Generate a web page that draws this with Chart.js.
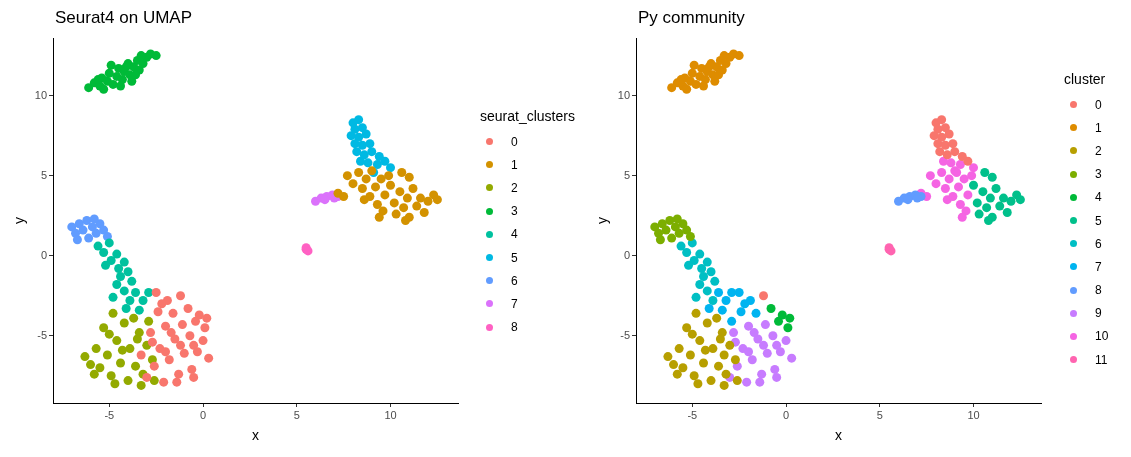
<!DOCTYPE html>
<html>
<head>
<meta charset="utf-8">
<script src="https://cdn.jsdelivr.net/npm/chart.js@4/dist/chart.umd.min.js"></script>
<style>
  body { margin: 0; background: #fff; font-family: "Liberation Sans", Arial, sans-serif; }
  .wrap { display: flex; width: 1131px; height: 457px; }
  .panel { width: 565px; height: 457px; position: relative; }
  .titulo { position: absolute; top: 8px; font-size: 17px; color: #000; }
  .leyenda { position: absolute; font-size: 12px; color: #000; }
  .leyenda .cab { font-size: 14px; margin-bottom: 6px; }
  .leyenda .fila { height: 23.2px; display: flex; align-items: center; }
  .leyenda .punto { width: 7px; height: 7px; border-radius: 50%; margin: 0 18px 0 6px; }
</style>
</head>
<body>
<div class="wrap">
  <div class="panel"><canvas id="izq"></canvas>
    <div class="titulo" style="left:55px">Seurat4 on UMAP</div>
    <div class="leyenda" id="ley-izq" style="left:480px; top:108px"></div>
  </div>
  <div class="panel"><canvas id="der"></canvas>
    <div class="titulo" style="left:73px">Py community</div>
    <div class="leyenda" id="ley-der" style="left:499px; top:71px"></div>
  </div>
</div>
<script>
const puntosArriba = [
  [-6.1,10.5,3,1],[-5.8,10.8,3,1],[-5.5,10.6,3,1],[-5.4,11.1,3,1],[-5.1,10.9,3,1],[-5.0,11.4,3,1],
  [-4.8,10.7,3,1],[-4.6,11.2,3,1],[-4.5,11.7,3,1],[-4.3,11.0,3,1],[-4.2,11.5,3,1],[-4.0,12.0,3,1],
  [-3.9,11.3,3,1],[-3.7,11.8,3,1],[-3.5,12.2,3,1],[-3.4,11.6,3,1],[-3.2,12.0,3,1],[-3.0,12.4,3,1],
  [-2.8,12.6,3,1],[-3.8,10.9,3,1],[-4.9,11.9,3,1],[-5.3,10.4,3,1],[-4.4,10.6,3,1],[-3.3,12.5,3,1],
  [-2.5,12.5,3,1],[-4.1,11.8,3,1],[-3.6,11.3,3,1],[-5.6,11.0,3,1]
];
const puntosDerecha = [
  [8.0,8.3,5,0],[8.3,8.5,5,0],[8.1,7.9,5,0],[8.5,8.0,5,0],[7.9,7.5,5,0],[8.3,7.4,5,0],[8.7,7.6,5,0],
  [8.1,7.0,5,0],[8.5,6.9,5,0],[8.9,7.0,5,0],[8.2,6.5,5,0],[8.6,6.3,5,0],[9.0,6.5,5,0],[9.4,6.2,5,0],
  [8.4,5.9,5,10],[8.8,5.8,5,10],[9.3,5.7,5,10],[9.7,5.9,5,0],[9.1,5.2,5,10],[10.0,5.5,5,10],
  [7.7,5.0,1,10],[8.0,4.5,1,10],[8.3,5.2,1,10],[8.5,4.2,1,10],[8.7,4.8,1,10],[8.9,3.7,1,10],
  [9.0,5.3,1,10],[9.2,4.3,1,10],[9.3,3.2,1,10],[9.5,4.8,1,10],[9.6,2.8,1,10],[9.7,3.8,1,10],
  [10.0,4.4,1,5],[10.2,3.3,1,5],[10.3,2.6,1,5],[10.5,4.0,1,5],[10.7,3.0,1,5],[10.9,3.6,1,5],
  [11.0,2.4,1,5],[11.2,4.2,1,5],[11.4,3.1,1,5],[11.6,3.6,1,5],[11.8,2.7,1,5],[12.0,3.4,1,5],
  [12.3,3.8,1,5],[12.5,3.5,1,5],[10.6,5.2,1,5],[11.0,4.9,1,5],[9.9,5.0,1,10],[9.4,2.4,1,10],
  [7.2,3.9,1,10],[7.5,3.7,1,10],[8.6,3.5,1,10],[10.8,2.2,1,5],
  [6.0,3.4,7,8],[6.3,3.6,7,8],[6.6,3.7,7,8],[6.9,3.8,7,8],[7.2,3.7,7,8],[6.5,3.5,7,8],[7.0,3.6,7,8],
  [5.5,0.4,8,11],[5.5,0.5,8,11],[5.6,0.3,8,11]
];
const puntosIzquierda = [
  [-7.0,1.8,6,3],[-6.8,1.4,6,3],[-6.6,2.0,6,3],[-6.4,1.6,6,3],[-6.2,2.2,6,3],[-6.1,1.1,6,3],
  [-5.9,1.8,6,3],[-5.7,1.4,6,3],[-5.5,2.0,6,3],[-5.3,1.6,6,3],[-5.1,1.2,6,3],[-6.7,1.0,6,3],[-5.8,2.3,6,3],
  [-5.6,0.6,4,6],[-5.3,0.2,4,6],[-5.0,0.8,4,6],[-4.9,-0.3,4,6],[-4.6,0.1,4,6],[-4.5,-0.8,4,6],
  [-4.2,-0.4,4,6],[-4.4,-1.3,4,6],[-4.0,-1.0,4,6],[-3.8,-1.6,4,6],[-4.6,-1.8,4,6],[-4.2,-2.2,4,6],
  [-3.6,-2.3,4,7],[-3.2,-2.8,4,7],[-3.9,-2.8,4,6],[-2.9,-2.3,4,7],[-4.8,-2.6,4,6],[-5.2,-0.6,4,6],
  [-3.4,-3.4,4,7],[-4.1,-3.3,4,7]
];
const puntosAbajo = [
  [-6.3,-6.3,2,2],[-6.0,-6.8,2,2],[-5.7,-5.8,2,2],[-5.5,-7.0,2,2],[-5.3,-4.5,2,2],[-5.1,-6.2,2,2],
  [-4.9,-7.5,2,2],[-4.8,-3.6,2,2],[-4.6,-5.3,2,2],[-4.4,-6.7,2,2],[-4.2,-4.2,2,2],[-4.0,-7.8,2,2],
  [-3.9,-5.8,2,2],[-3.7,-3.9,2,2],[-3.6,-6.9,2,2],[-3.4,-4.8,2,2],[-3.2,-7.4,2,2],[-3.0,-5.6,2,2],
  [-2.9,-4.1,2,7],[-2.7,-6.5,2,2],[-4.7,-8.0,2,2],[-5.8,-7.4,2,2],[-3.3,-8.1,2,2],[-2.6,-7.8,2,2],
  [-5.0,-4.9,2,2],[-4.3,-5.9,2,2],[-3.5,-5.2,2,2],
  [-3.3,-6.2,0,2],[-3.0,-7.6,0,9],[-2.8,-4.8,0,9],[-2.6,-6.9,0,9],[-2.5,-2.3,0,7],[-2.4,-3.5,0,7],
  [-2.3,-5.8,0,9],[-2.1,-7.9,0,9],[-2.0,-4.4,0,9],[-1.9,-2.8,0,7],[-1.8,-6.5,0,9],[-1.6,-3.6,0,7],
  [-1.5,-5.2,0,9],[-1.3,-7.4,0,9],[-1.2,-2.5,0,0],[-1.1,-4.3,0,9],[-1.0,-6.1,0,9],[-0.8,-3.3,0,4],
  [-0.7,-5.0,0,9],[-0.6,-7.1,0,9],[-0.4,-4.1,0,4],[-0.3,-6.0,0,9],[-0.2,-3.7,0,4],[0.0,-5.3,0,9],
  [0.1,-4.5,0,4],[0.3,-6.4,0,9],[0.2,-3.9,0,4],[-0.5,-7.6,0,9],[-2.2,-3.0,0,7],[-1.4,-7.9,0,9],
  [-2.0,-6.0,0,9],[-1.2,-5.6,0,9],[-0.5,-5.6,0,9],[-1.7,-4.8,0,9],[-2.7,-5.4,0,9]
];
const todosLosPuntos = [...puntosArriba, ...puntosDerecha, ...puntosIzquierda, ...puntosAbajo];

const clustersSeurat = ['0','1','2','3','4','5','6','7','8'];
const coloresSeurat = ['#F8766D','#D39200','#93AA00','#00BA38','#00C19F','#00B9E3','#619CFF','#DB72FB','#FF61C3'];
const clustersPy = ['0','1','2','3','4','5','6','7','8','9','10','11'];
const coloresPy = ['#F8766D','#DE8C00','#B79F00','#7CAE00','#00BA38','#00C08B','#00BFC4','#00B4F0','#619CFF','#C77CFF','#F564E3','#FF64B0'];
const ticksX = [-5, 0, 5, 10];
const ticksY = [-5, 0, 5, 10];

const construirLeyenda = (id, tituloLeyenda, etiquetas, colores) => {
    let html = `<div class="cab">${tituloLeyenda}</div>`;
    etiquetas.forEach((et, i) => {
        html += `<div class="fila"><span class="punto" style="background:${colores[i]}"></span>${et}</div>`;
    });
    document.getElementById(id).innerHTML = html;
};

const construirGrafico = (id, etiquetas, colores, col, padIzq, padDer) => {
    const datasets = etiquetas.map((et, i) => ({
        label: et,
        data: todosLosPuntos.filter(p => p[col] === i).map(p => ({ x: p[0], y: p[1] })),
        backgroundColor: colores[i], borderColor: colores[i],
        pointRadius: 4.5, pointHoverRadius: 4.5, borderWidth: 0
    }));
    const eje = (ticks, min, max, nombre) => ({
        type: 'linear', min, max,
        afterBuildTicks: a => { a.ticks = ticks.map(v => ({ value: v })); },
        grid: { display: true, drawOnChartArea: false, tickLength: 4, color: '#333' },
        border: { display: true, color: '#000', width: 1 },
        ticks: { color: '#4d4d4d', font: { size: 11 }, padding: 2 },
        title: { display: true, text: nombre, color: '#000', font: { size: 14 } }
    });
    new Chart(document.getElementById(id), {
        type: 'scatter',
        data: { datasets },
        options: {
            responsive: true, maintainAspectRatio: false, animation: false,
            layout: { padding: { left: padIzq, right: padDer, top: 38, bottom: 8 } },
            scales: { x: eje(ticksX, -8, 13.6, 'x'), y: eje(ticksY, -9.2, 13.6, 'y') },
            plugins: { legend: { display: false }, title: { display: false }, tooltip: { enabled: false } }
        }
    });
};

construirGrafico('izq', clustersSeurat, coloresSeurat, 2, 8, 107);
construirGrafico('der', clustersPy, coloresPy, 3, 26, 89);
construirLeyenda('ley-izq', 'seurat_clusters', clustersSeurat, coloresSeurat);
construirLeyenda('ley-der', 'cluster', clustersPy, coloresPy);
</script>
</body>
</html>
